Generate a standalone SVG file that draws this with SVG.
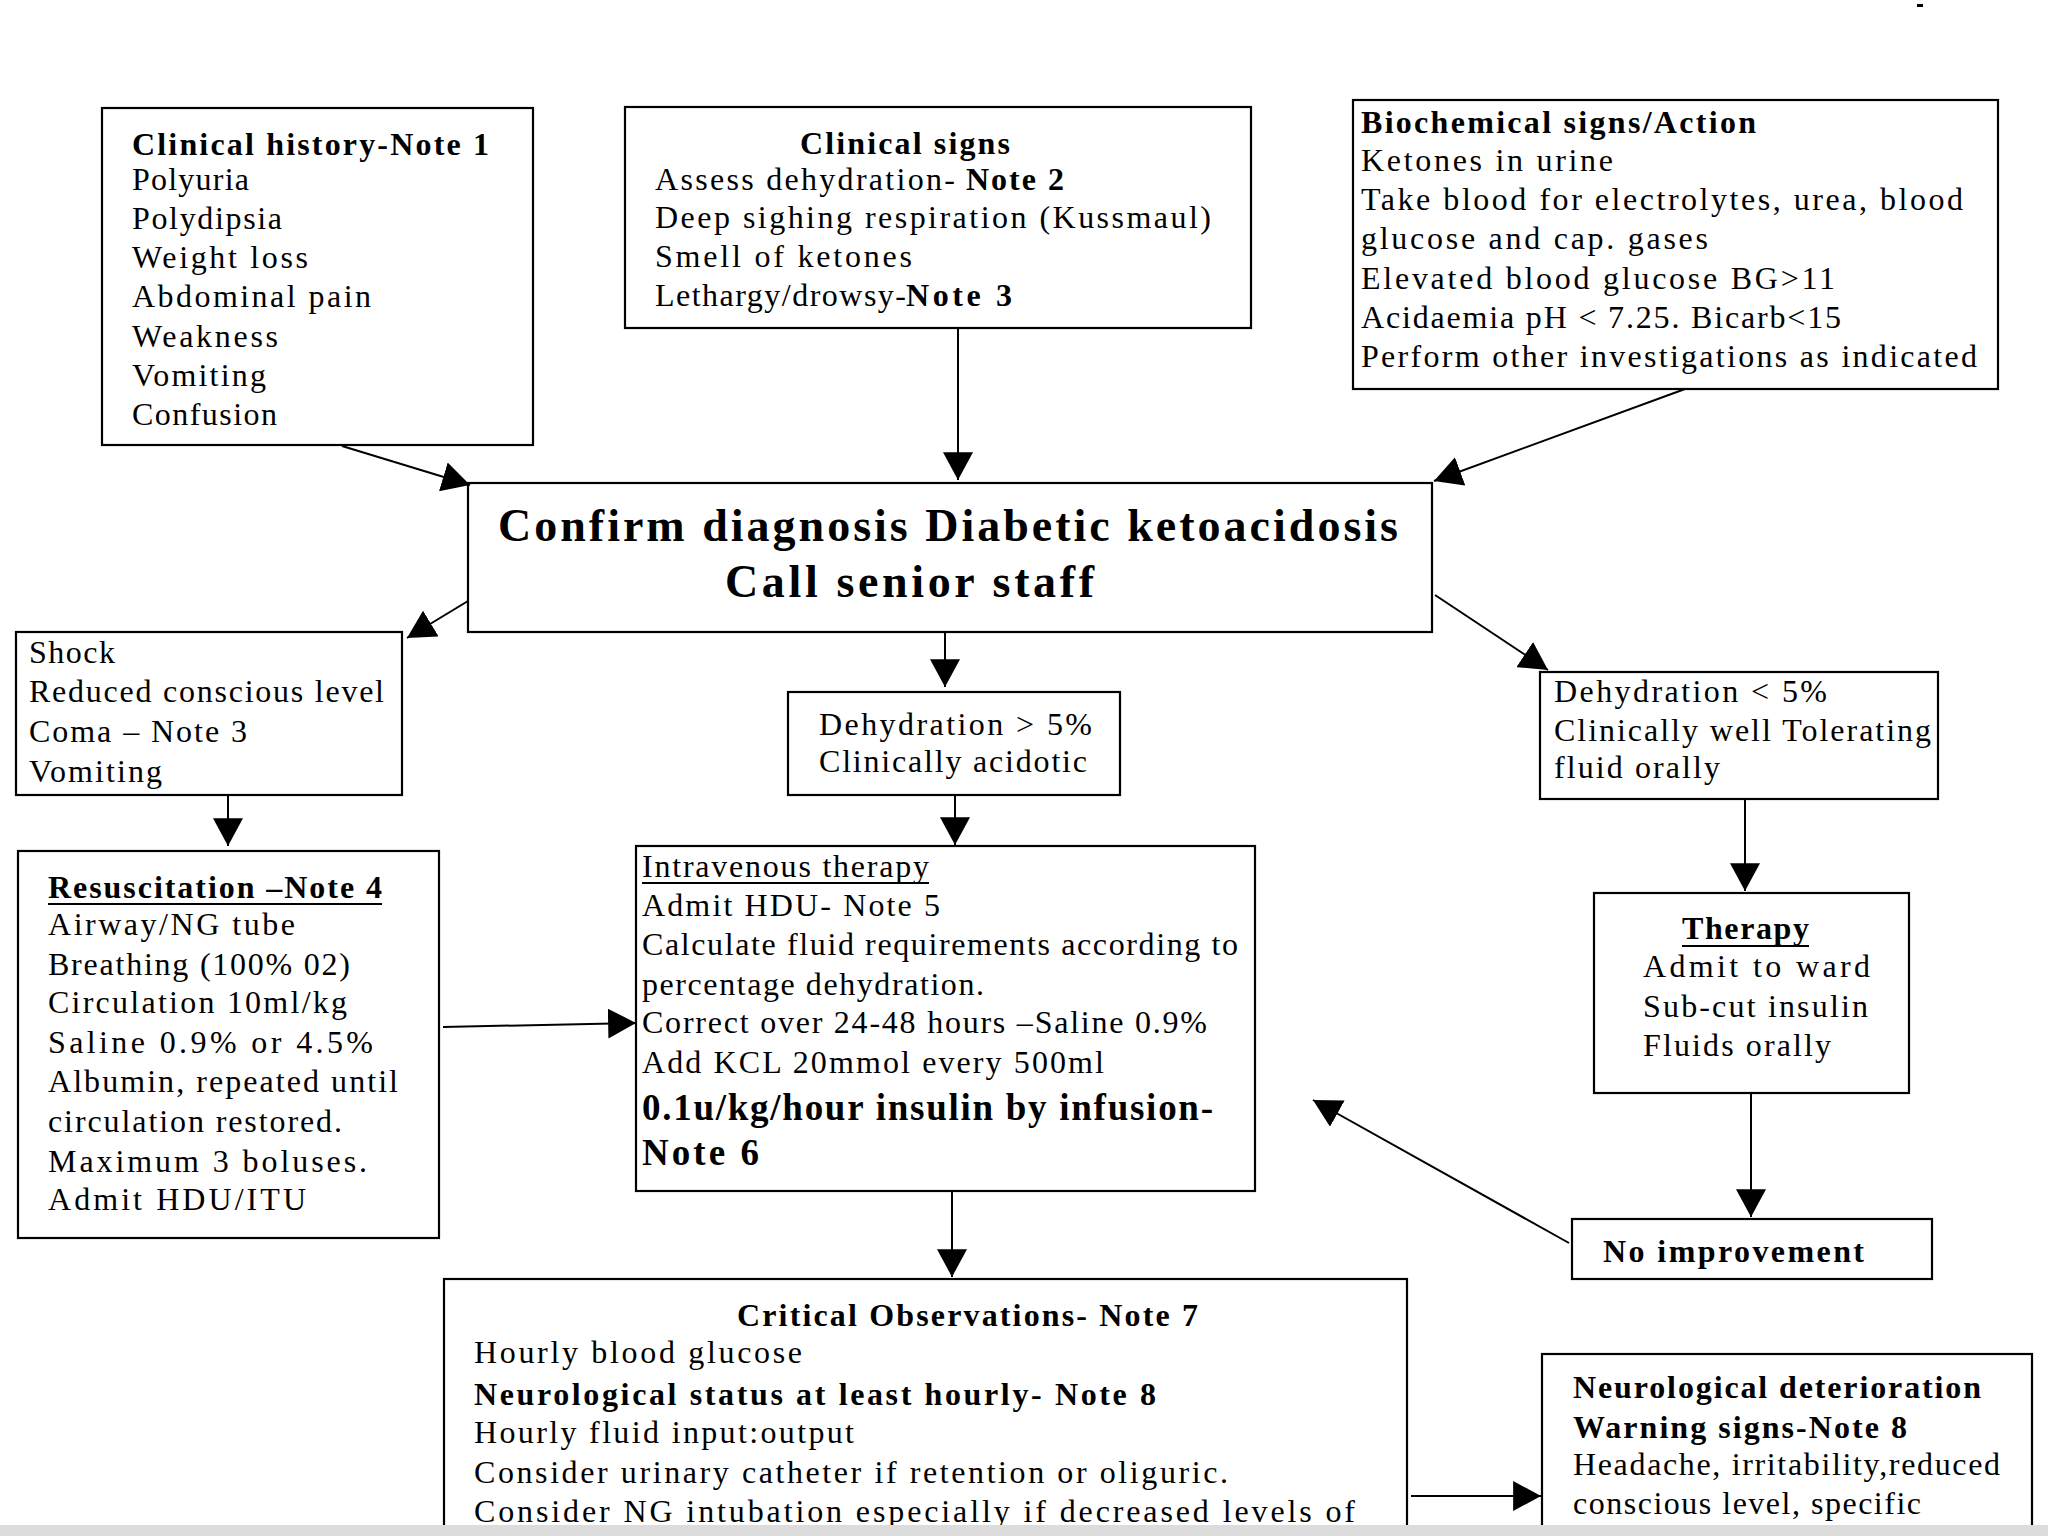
<svg xmlns="http://www.w3.org/2000/svg" width="2048" height="1536" viewBox="0 0 2048 1536">
<defs>
<style>
.box{fill:#fff;stroke:#000;stroke-width:2.2}
.t{font-family:"Liberation Serif","Times New Roman",serif;font-size:32px;fill:#000}
.b{font-weight:bold}
.big{font-size:46px;font-weight:bold}
.mid{font-size:37px;font-weight:bold}
.ul{stroke:#000;stroke-width:2}
#connectors line{stroke:#000;stroke-width:2;marker-end:url(#ah)}
</style>
<marker id="ah" markerUnits="userSpaceOnUse" markerWidth="28" markerHeight="30" refX="26" refY="14" orient="auto" viewBox="0 0 26 28">
<path d="M0,0 L26,14 L0,28 Z" fill="#000"/>
</marker>
</defs>
<rect width="2048" height="1536" fill="#fff"/>
<rect x="1917" y="4" width="6" height="3" fill="#000"/>

<g id="clinical-history">
<rect class="box" x="102" y="108" width="431" height="337"/>
<text class="t b" x="132" y="155" textLength="357">Clinical history-Note 1</text>
<text class="t" x="132" y="190" textLength="117">Polyuria</text>
<text class="t" x="132" y="229" textLength="150">Polydipsia</text>
<text class="t" x="132" y="268" textLength="176">Weight loss</text>
<text class="t" x="132" y="307" textLength="239">Abdominal pain</text>
<text class="t" x="132" y="347" textLength="146">Weakness</text>
<text class="t" x="132" y="386" textLength="134">Vomiting</text>
<text class="t" x="132" y="425" textLength="145">Confusion</text>
</g>

<g id="clinical-signs">
<rect class="box" x="625" y="107" width="626" height="221"/>
<text class="t b" x="800" y="154" textLength="210">Clinical signs</text>
<text class="t" x="655" y="190" textLength="300">Assess dehydration-</text>
<text class="t b" x="966" y="190" textLength="98">Note 2</text>
<text class="t" x="655" y="228" textLength="556">Deep sighing respiration (Kussmaul)</text>
<text class="t" x="655" y="267" textLength="257">Smell of ketones</text>
<text class="t" x="655" y="306" textLength="251">Lethargy/drowsy-</text>
<text class="t b" x="906" y="306" textLength="106">Note 3</text>
</g>

<g id="biochemical">
<rect class="box" x="1353" y="100" width="645" height="289"/>
<text class="t b" x="1361" y="133" textLength="395">Biochemical signs/Action</text>
<text class="t" x="1361" y="171" textLength="252">Ketones in urine</text>
<text class="t" x="1361" y="210" textLength="602">Take blood for electrolytes, urea, blood</text>
<text class="t" x="1361" y="249" textLength="347">glucose and cap. gases</text>
<text class="t" x="1361" y="289" textLength="474">Elevated blood glucose BG&gt;11</text>
<text class="t" x="1361" y="328" textLength="480">Acidaemia pH &lt; 7.25. Bicarb&lt;15</text>
<text class="t" x="1361" y="367" textLength="616">Perform other investigations as indicated</text>
</g>

<g id="confirm">
<rect class="box" x="468" y="483" width="964" height="149"/>
<text class="t big" x="498" y="541" textLength="900">Confirm diagnosis Diabetic ketoacidosis</text>
<text class="t big" x="725" y="597" textLength="369">Call senior staff</text>
</g>

<g id="shock">
<rect class="box" x="16" y="632" width="386" height="163"/>
<text class="t" x="29" y="663" textLength="86">Shock</text>
<text class="t" x="29" y="702" textLength="355">Reduced conscious level</text>
<text class="t" x="29" y="742" textLength="218">Coma – Note 3</text>
<text class="t" x="29" y="782" textLength="133">Vomiting</text>
</g>

<g id="dehydration-over-5">
<rect class="box" x="788" y="692" width="332" height="103"/>
<text class="t" x="819" y="735" textLength="273">Dehydration &gt; 5%</text>
<text class="t" x="819" y="772" textLength="268">Clinically acidotic</text>
</g>

<g id="dehydration-under-5">
<rect class="box" x="1540" y="672" width="398" height="127"/>
<text class="t" x="1554" y="702" textLength="273">Dehydration &lt; 5%</text>
<text class="t" x="1554" y="741" textLength="377">Clinically well Tolerating</text>
<text class="t" x="1554" y="778" textLength="166">fluid orally</text>
</g>

<g id="resuscitation">
<rect class="box" x="18" y="851" width="421" height="387"/>
<text class="t b" x="48" y="898" textLength="334">Resuscitation –Note 4</text>
<line class="ul" x1="48" y1="904" x2="382" y2="904"/>
<text class="t" x="48" y="935" textLength="247">Airway/NG tube</text>
<text class="t" x="48" y="975" textLength="302">Breathing (100% 02)</text>
<text class="t" x="48" y="1013" textLength="299">Circulation 10ml/kg</text>
<text class="t" x="48" y="1053" textLength="325">Saline 0.9% or 4.5%</text>
<text class="t" x="48" y="1092" textLength="350">Albumin, repeated until</text>
<text class="t" x="48" y="1132" textLength="294">circulation restored.</text>
<text class="t" x="48" y="1172" textLength="319">Maximum 3 boluses.</text>
<text class="t" x="48" y="1210" textLength="258">Admit HDU/ITU</text>
</g>

<g id="intravenous-therapy">
<rect class="box" x="636" y="846" width="619" height="345"/>
<text class="t" x="642" y="877" textLength="287">Intravenous therapy</text>
<line class="ul" x1="642" y1="883" x2="929" y2="883"/>
<text class="t" x="642" y="916" textLength="298">Admit HDU- Note 5</text>
<text class="t" x="642" y="955" textLength="596">Calculate fluid requirements according to</text>
<text class="t" x="642" y="995" textLength="342">percentage dehydration.</text>
<text class="t" x="642" y="1033" textLength="565">Correct over 24-48 hours –Saline 0.9%</text>
<text class="t" x="642" y="1073" textLength="462">Add KCL 20mmol every 500ml</text>
<text class="t mid" x="642" y="1120" textLength="571">0.1u/kg/hour insulin by infusion-</text>
<text class="t mid" x="642" y="1165" textLength="117">Note 6</text>
</g>

<g id="therapy">
<rect class="box" x="1594" y="893" width="315" height="200"/>
<text class="t b" x="1682" y="939" textLength="127">Therapy</text>
<line class="ul" x1="1682" y1="946" x2="1809" y2="946"/>
<text class="t" x="1643" y="977" textLength="227">Admit to ward</text>
<text class="t" x="1643" y="1017" textLength="225">Sub-cut insulin</text>
<text class="t" x="1643" y="1056" textLength="188">Fluids orally</text>
</g>

<g id="no-improvement">
<rect class="box" x="1572" y="1219" width="360" height="60"/>
<text class="t b" x="1603" y="1262" textLength="261">No improvement</text>
</g>

<g id="critical-observations">
<rect class="box" x="444" y="1279" width="963" height="320"/>
<text class="t b" x="737" y="1326" textLength="461">Critical Observations- Note 7</text>
<text class="t" x="474" y="1363" textLength="328">Hourly blood glucose</text>
<text class="t b" x="474" y="1405" textLength="682">Neurological status at least hourly- Note 8</text>
<text class="t" x="474" y="1443" textLength="380">Hourly fluid input:output</text>
<text class="t" x="474" y="1483" textLength="754">Consider urinary catheter if retention or oliguric.</text>
<text class="t" x="474" y="1522" textLength="881">Consider NG intubation especially if decreased levels of</text>
</g>

<g id="neurological-deterioration">
<rect class="box" x="1542" y="1354" width="490" height="260"/>
<text class="t b" x="1573" y="1398" textLength="408">Neurological deterioration</text>
<text class="t b" x="1573" y="1438" textLength="334">Warning signs-Note 8</text>
<text class="t" x="1573" y="1475" textLength="427">Headache, irritability,reduced</text>
<text class="t" x="1573" y="1514" textLength="348">conscious level, specific</text>
</g>

<g id="connectors">
<line x1="342" y1="446" x2="470" y2="485"/>
<line x1="958" y1="328" x2="958" y2="480"/>
<line x1="1685" y1="389" x2="1434" y2="481"/>
<line x1="468" y1="601" x2="407" y2="638"/>
<line x1="945" y1="632" x2="945" y2="687"/>
<line x1="1435" y1="595" x2="1548" y2="670"/>
<line x1="228" y1="795" x2="228" y2="846"/>
<line x1="955" y1="795" x2="955" y2="845"/>
<line x1="443" y1="1027" x2="636" y2="1023"/>
<line x1="952" y1="1191" x2="952" y2="1277"/>
<line x1="1745" y1="799" x2="1745" y2="891"/>
<line x1="1751" y1="1093" x2="1751" y2="1217"/>
<line x1="1569" y1="1243" x2="1313" y2="1100"/>
<line x1="1411" y1="1496" x2="1541" y2="1496"/>
</g>

<rect x="0" y="1525" width="2048" height="11" fill="#dcdcdc"/>
</svg>
